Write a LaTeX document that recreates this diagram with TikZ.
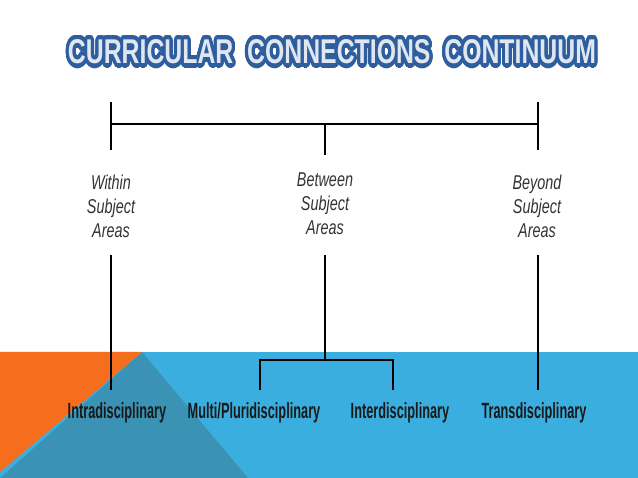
\documentclass[tikz,border=0pt]{standalone}
\usepackage{fontspec}
\setmainfont{Liberation Sans}
\usepackage{contour}
\contourlength{1.3pt}
\contournumber{24}
\definecolor{bandblue}{HTML}{3AAFDF}
\definecolor{darkteal}{HTML}{3A93B5}
\definecolor{orng}{HTML}{F56E1E}
\definecolor{ttl}{HTML}{2E5E9E}
\tikzset{ln/.style={line width=2.5pt,black},
 up/.style={font=\itshape\fontsize{20}{24}\selectfont,align=center,text=black!80,xscale=0.72},
 low/.style={font=\bfseries\fontsize{22}{24}\selectfont,xscale=0.58,text=black!90}}
\begin{document}
\begin{tikzpicture}[x=1pt,y=-1pt]
\useasboundingbox (0,0) rectangle (638,478);
\fill[bandblue] (0,352) rectangle (638,478);
\fill[darkteal] (142,352) -- (248,478) -- (0,478) -- cycle;
\fill[orng] (0,352) -- (142,352) -- (0,472) -- cycle;
\node (title) at (332,54) {\resizebox{528pt}{24pt}{\bfseries\contour{ttl}{\textcolor{white!85!ttl}{CURRICULAR\ \ CONNECTIONS\ \ CONTINUUM}}}};
\coordinate (l1) at (111,102); \coordinate (l2) at (111,150);
\coordinate (r1) at (538,102); \coordinate (r2) at (538,150);
\coordinate (bl) at (111,124); \coordinate (br) at (538,124);
\coordinate (m1) at (325,124); \coordinate (m2) at (325,155);
\draw[line width=2pt] (l1)--(l2); \draw[line width=2pt] (r1)--(r2); \draw[ln] (bl)--(br); \draw[line width=2pt] (m1)--(m2);
\node[up] (w) at (111,206) {Within\\Subject\\Areas};
\node[up] (b) at (325,204) {Between\\Subject\\Areas};
\node[up] (y) at (537,206) {Beyond\\Subject\\Areas};
\node[low] (i) at (117,413) {Intradisciplinary};
\node[low] (mp) at (254,413) {Multi/Pluridisciplinary};
\node[low] (id) at (400,413) {Interdisciplinary};
\node[low] (t) at (534,413) {Transdisciplinary};
\coordinate (bkl) at (260,360); \coordinate (bkr) at (393,360); \coordinate (bkm) at (325,360);
\draw[line width=1.5pt] (111,255) -- (111,390);
\draw[line width=1.5pt] (538,255) -- (538,390);
\draw[line width=1.5pt] (325,255) -- (bkm);
\draw[line width=2.5pt] (260,390) -- (bkl) -- (bkr) -- (393,390);
\end{tikzpicture}
\end{document}
